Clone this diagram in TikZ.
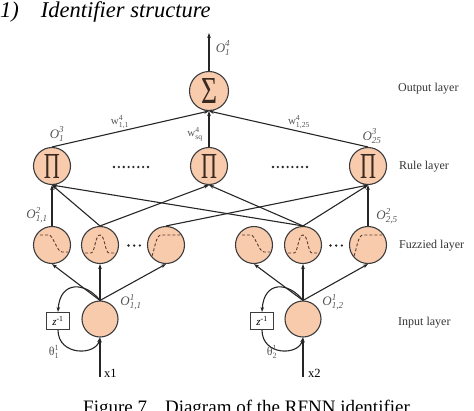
\documentclass[tikz,border=0pt]{standalone}
\usepackage{amsmath}
\usepackage{fontspec}
\setmainfont{Liberation Serif}
\usetikzlibrary{arrows.meta}
\definecolor{peach}{HTML}{F8CBAD}
\definecolor{edge}{HTML}{3C3C3C}
\definecolor{mfc}{HTML}{5A3C2C}
\definecolor{symc}{HTML}{3A2A20}
\definecolor{labc}{HTML}{555555}
\definecolor{layc}{HTML}{333333}
\newcommand{\olab}[2]{$\text{\itshape O}^{\text{\itshape #1}}_{\text{\itshape #2}}$}
\newcommand{\wlab}[2]{$\text{w}^{\text{#1}}_{\text{#2}}$}
\newcommand{\prodsym}{\resizebox{16pt}{24pt}{Π}}
\newcommand{\sumsym}{\resizebox{16pt}{25pt}{Σ}}
\begin{document}
\begin{tikzpicture}[x=1pt,y=-1pt,
  neuron/.style={circle,fill=peach,draw=edge,line width=1.1pt,minimum size=37pt,inner sep=0pt,text=symc},
  conn/.style={draw=black!85,line width=1.1pt,-{Stealth[length=5pt,width=3.6pt]}},
  mf/.style={draw=mfc,line width=0.9pt,dash pattern=on 3pt off 2pt},
  olabel/.style={text=labc,font=\fontsize{13}{13}\selectfont,inner sep=0pt},
  wlabel/.style={text=labc,font=\fontsize{11}{11}\selectfont,inner sep=0pt},
  layer/.style={text=layc,font=\fontsize{12}{12}\selectfont,anchor=west,inner sep=0pt},
  delay/.style={draw=edge,line width=1.1pt,fill=white,minimum width=23pt,minimum height=17pt,inner sep=0pt,font=\fontsize{11}{11}\selectfont},
  dotmark/.style={fill=black!85}
]
\useasboundingbox (0,0) rectangle (474,410);
\clip (0,0) rectangle (474,410);

% title
\node[anchor=base west,inner sep=0pt,font=\fontsize{22.5}{22.5}\selectfont\itshape] (title) at (0,17) {1)\hspace{22pt}Identifier structure};

% output layer
\node[neuron,minimum size=39pt] (sum) at (209,91) {\sumsym};
\coordinate (otop) at (209,33);
\draw[conn] (sum.north) -- (otop);
\node[olabel] (o4) at (223,48) {\olab{4}{1}};

% rule layer
\node[neuron] (r1) at (52,166) {\prodsym};
\node[neuron] (r2) at (209,166) {\prodsym};
\node[neuron] (r3) at (368,166) {\prodsym};
\foreach \i in {0,...,7} {\fill[dotmark] (114+\i*4.86,167) circle (1.3pt);}
\foreach \i in {0,...,7} {\fill[dotmark] (273+\i*4.86,167) circle (1.3pt);}

\draw[conn] (r1.north) -- (sum.south);
\draw[conn] (r2.north) -- (sum.south);
\draw[conn] (r3.north) -- (sum.south);
\node[wlabel] (w1) at (120,122) {\wlab{4}{1,1}};
\node[wlabel] (w2) at (195,134) {\wlab{4}{sq}};
\node[wlabel] (w3) at (299,122) {\wlab{4}{1,25}};
\node[olabel] (o31) at (57,134) {\olab{3}{1}};
\node[olabel] (o325) at (372,136) {\olab{3}{25}};

% fuzzied layer
\node[neuron] (f1) at (52,245) {};
\node[neuron] (f2) at (100,245) {};
\node[neuron] (f3) at (166,245) {};
\node[neuron] (f4) at (254,245) {};
\node[neuron] (f5) at (303,245) {};
\node[neuron] (f6) at (368,245) {};
\foreach \i in {0,1,2} {\fill[dotmark] (128.5+\i*5.7,245.5) circle (1.3pt);}
\foreach \i in {0,1,2} {\fill[dotmark] (330.5+\i*5.7,245.5) circle (1.3pt);}

% membership functions
\foreach \n in {f1,f4} {
  \draw[mf,shift={(\n.center)}] (-12,-10) -- (-3,-10) .. controls (1,-10) and (5,7) .. (10,7) -- (16,7);
}
\foreach \n in {f2,f5} {
  \draw[mf,shift={(\n.center)}] (-15,8) -- (-9,8) .. controls (-5,8) and (-5,-10) .. (0,-10) .. controls (5,-10) and (5,8) .. (9,8) -- (15,8);
}
\foreach \n in {f3,f6} {
  \draw[mf,shift={(\n.center)}] (-14,11) .. controls (-11,3) and (-10,-10) .. (-5,-10) -- (14,-10);
}

% fuzzied -> rule
\draw[conn] (f1.north) -- (r1.south);
\draw[conn] (f2.north) -- (r1.south);
\draw[conn] (f5.north) -- (r1.south);
\draw[conn] (f2.north) -- (r2.south);
\draw[conn] (f5.north) -- (r2.south);
\draw[conn] (f3.north) -- (r3.south);
\draw[conn] (f5.north) -- (r3.south);
\draw[conn] (f6.north) -- (r3.south);
\node[olabel] (o211) at (37,215) {\olab{2}{1,1}};
\node[olabel] (o225) at (387,216) {\olab{2}{2,5}};

% input layer
\node[neuron,minimum size=36pt] (in1) at (100,319) {};
\node[neuron,minimum size=36pt] (in2) at (303,319) {};
\draw[conn] (in1.north) -- (f1.south);
\draw[conn] (in1.north) -- (f2.south);
\draw[conn] (in1.north) -- (f3.south);
\draw[conn] (in2.north) -- (f4.south);
\draw[conn] (in2.north) -- (f5.south);
\draw[conn] (in2.north) -- (f6.south);
\node[olabel] (o111) at (131,302) {\olab{1}{1,1}};
\node[olabel] (o112) at (333,302) {\olab{1}{1,2}};

% delay boxes and feedback
\node[delay] (b1) at (58,321) {\textit{z}$^{\text{-1}}$};
\node[delay] (b2) at (262,321) {\textit{z}$^{\text{-1}}$};
\draw[conn] (in1.north) .. controls (86,282) and (60,280) .. (b1.north);
\draw[conn] (b1.south) .. controls (58,356) and (96,356) .. (in1.south);
\draw[conn] (in2.north) .. controls (289,282) and (264,280) .. (b2.north);
\draw[conn] (b2.south) .. controls (262,356) and (299,356) .. (in2.south);
\node[wlabel,font=\fontsize{12}{12}\selectfont] (th1) at (54,352) {θ$^{\text{1}}_{\text{1}}$};
\node[wlabel,font=\fontsize{12}{12}\selectfont] (th2) at (272,352) {θ$^{\text{1}}_{\text{2}}$};

% inputs
\coordinate (x1s) at (100,377);
\coordinate (x2s) at (303,377);
\draw[conn] (x1s) -- (in1.south);
\draw[conn] (x2s) -- (in2.south);
\node[anchor=base west,inner sep=0pt,font=\fontsize{12.5}{12.5}\selectfont] (x1) at (104,377) {x1};
\node[anchor=base west,inner sep=0pt,font=\fontsize{12.5}{12.5}\selectfont] (x2) at (308,377) {x2};

% layer labels
\node[layer] (lo) at (398,89) {Output layer};
\node[layer] (lr) at (399,167) {Rule layer};
\node[layer] (lf) at (399,246) {Fuzzied layer};
\node[layer] (li) at (398,323) {Input layer};

% caption (cut by the picture edge)
\node[anchor=base west,inner sep=0pt,font=\fontsize{19}{19}\selectfont] (cap) at (83,413) {Figure 7\hspace{18pt}Diagram of the RFNN identifier};
\end{tikzpicture}
\end{document}
